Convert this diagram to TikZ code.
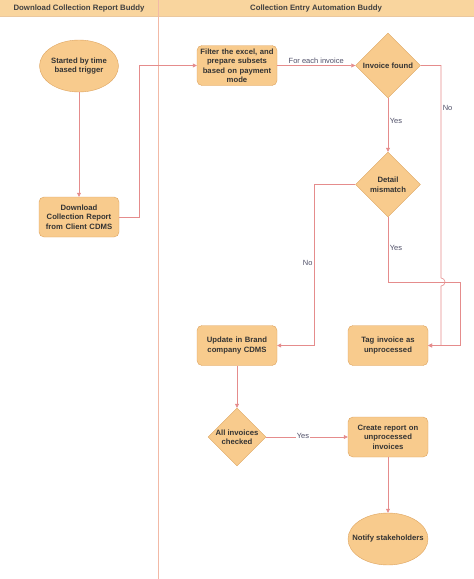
\documentclass[tikz,border=0pt]{standalone}
\usepackage{fontspec}
\setmainfont{Liberation Sans}
\usepackage{tikz}
\usetikzlibrary{positioning,shapes.geometric,arrows.meta}
\definecolor{boxfill}{HTML}{F8CB8D}
\definecolor{boxline}{HTML}{DDA35E}
\definecolor{headfill}{HTML}{F9D59E}
\definecolor{flowline}{HTML}{E58C8C}
\definecolor{lanecol}{HTML}{F2B9A6}
\definecolor{labcol}{HTML}{4D4D66}
\tikzset{
	box/.style={draw=boxline,fill=boxfill,rounded corners=5pt,minimum width=80pt,minimum height=40pt,text width=77pt,align=center,inner sep=1pt,font=\fontsize{7.7}{9.5}\selectfont\bfseries,text=black!80},
	oval/.style={draw=boxline,fill=boxfill,ellipse,minimum width=79pt,minimum height=52pt,inner sep=0pt,align=center,font=\fontsize{7.7}{9.5}\selectfont\bfseries,text=black!80},
	decide/.style={draw=boxline,fill=boxfill,diamond,minimum width=65pt,minimum height=65pt,inner sep=0pt,align=center,font=\fontsize{7.7}{9.5}\selectfont\bfseries,text=black!80},
	flow/.style={draw=flowline,line width=0.6pt,-{Triangle[length=4pt,width=4pt]}},
	lab/.style={font=\fontsize{7.5}{9}\selectfont,text=labcol,inner sep=1.5pt},
}
\begin{document}
\begin{tikzpicture}[x=1pt,y=-1pt]
	\useasboundingbox (0,0) rectangle (474,579);
	%% lanes
	\fill[headfill] (0,0) rectangle (474,16);
	\draw[boxline!60,line width=0.8pt] (0,16) -- (474,16);
	\draw[lanecol,line width=0.8pt] (158,0) -- (158,579);
	\node[font=\fontsize{7.8}{9}\selectfont\bfseries,text=black!75] (lhead) at (79,8) {Download Collection Report Buddy};
	\node[font=\fontsize{7.8}{9}\selectfont\bfseries,text=black!75] (rhead) at (316,8) {Collection Entry Automation Buddy};
	%% nodes
	\node[oval] (start) at (79,66) {Started by time\\based trigger};
	\node[box,below=151pt of start.center,anchor=center] (download) {Download\\Collection Report\\from Client CDMS};
	\node[box] (filter) at (237,65.5) {Filter the excel, and\\prepare subsets\\based on payment\\mode};
	\node[decide] (found) at (388,65.5) {Invoice found};
	\node[decide,below=119pt of found.center,anchor=center] (mismatch) {Detail\\mismatch};
	\node[box] (update) at (237,345.5) {Update in Brand\\company CDMS};
	\node[box] (tag) at (388,345.5) {Tag invoice as\\unprocessed};
	\node[decide,minimum width=56pt,minimum height=58pt] (allchk) at (237,437) {All invoices\\checked};
	\node[box] (report) at (388,437) {Create report on\\unprocessed\\invoices};
	\node[oval,minimum width=80pt,inner xsep=-9pt] (notify) at (388,539) {Notify stakeholders};
	\coordinate (jump) at (441,282);
	% connectors
	\draw[flow] (start) -- (download);
	\draw[flow] (download.east) -- ++(20,0) |- (filter.west);
	\draw[flow] (filter.east) -- node[lab,above,pos=0.5] {For each invoice} (found.west);
	\draw[flow] (found.south) -- node[lab,right,pos=0.43] {Yes} (mismatch.north);
	\draw[flow] (found.east) -- (found.east -| jump) -- node[lab,right,pos=0.2] {No} ([yshift=4pt]jump)
		arc[start angle=90,end angle=-90,radius=4pt] -- (jump |- tag.east) -- (tag.east);
	\draw[flow] (mismatch.south) -- node[lab,right,pos=0.48] {Yes} (mismatch.south |- jump) -- ++(72,0) |- (tag.east);
	\draw[flow] (mismatch.west) -- ++(-41,0) coordinate (nocorner) -- node[lab,left,pos=0.49] {No} (nocorner |- update.east) -- (update.east);
	\draw[flow] (update) -- (allchk);
	\draw[flow] (allchk.east) -- node[lab,fill=white,pos=0.45,inner sep=0.5pt,yshift=1.5pt] {Yes} (report.west);
	\draw[flow] (report) -- (notify);
\end{tikzpicture}
\end{document}
